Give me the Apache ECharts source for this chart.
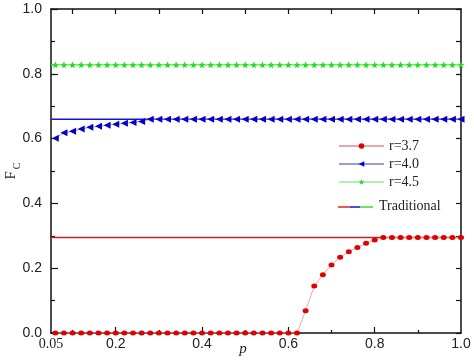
<!DOCTYPE html>
<html>
<head>
<meta charset="utf-8">
<script src="https://cdn.jsdelivr.net/npm/echarts@6/dist/echarts.min.js"></script>
<style>
  html, body { margin: 0; padding: 0; background: #fff; }
  #chart { width: 474px; height: 363px; }
</style>
</head>
<body>
<div id="chart"></div>
<script>
// sampled p values
const pValues = [0.06, 0.08, 0.10, 0.12, 0.14, 0.16, 0.18, 0.20, 0.22, 0.24,
                 0.26, 0.28, 0.30, 0.32, 0.34, 0.36, 0.38, 0.40, 0.42, 0.44,
                 0.46, 0.48, 0.50, 0.52, 0.54, 0.56, 0.58, 0.60, 0.62, 0.64,
                 0.66, 0.68, 0.70, 0.72, 0.74, 0.76, 0.78, 0.80, 0.82, 0.84,
                 0.86, 0.88, 0.90, 0.92, 0.94, 0.96, 0.98, 1.00];

const fcR37 = [0, 0, 0, 0, 0, 0, 0, 0, 0, 0,
               0, 0, 0, 0, 0, 0, 0, 0, 0, 0,
               0, 0, 0, 0, 0, 0, 0, 0, 0, 0.069,
               0.145, 0.180, 0.210, 0.234, 0.251, 0.264, 0.277, 0.287, 0.295, 0.295,
               0.295, 0.295, 0.295, 0.295, 0.295, 0.295, 0.295, 0.295];

const fcR40 = [0.601, 0.618, 0.623, 0.630, 0.635, 0.638, 0.641, 0.644, 0.647, 0.650,
               0.653, 0.660, 0.660, 0.660, 0.660, 0.660, 0.660, 0.660, 0.660, 0.660,
               0.660, 0.660, 0.660, 0.660, 0.660, 0.660, 0.660, 0.660, 0.660, 0.660,
               0.660, 0.660, 0.660, 0.660, 0.660, 0.660, 0.660, 0.660, 0.660, 0.660,
               0.660, 0.660, 0.660, 0.660, 0.660, 0.660, 0.660, 0.660];

const fcR45 = [0.828, 0.828, 0.828, 0.828, 0.828, 0.828, 0.828, 0.828, 0.828, 0.828,
               0.828, 0.828, 0.828, 0.828, 0.828, 0.828, 0.828, 0.828, 0.828, 0.828,
               0.828, 0.828, 0.828, 0.828, 0.828, 0.828, 0.828, 0.828, 0.828, 0.828,
               0.828, 0.828, 0.828, 0.828, 0.828, 0.828, 0.828, 0.828, 0.828, 0.828,
               0.828, 0.828, 0.828, 0.828, 0.828, 0.828, 0.828, 0.828];

// traditional (horizontal) values for r=3.7, 4.0, 4.5
const tradP = [0.05, 1.0];
const tradR37 = [0.295, 0.295];
const tradR40 = [0.660, 0.660];
const tradR45 = [0.828, 0.828];

const xLabelValues = [0.05, 0.2, 0.4, 0.6, 0.8, 1.0];
const xMajorTicks = [0.2, 0.4, 0.6, 0.8];
const xMinorTicks = [0.1, 0.3, 0.5, 0.7, 0.9];
const xTopTicks = [0.1, 0.2, 0.3, 0.4, 0.5, 0.6, 0.7, 0.8, 0.9];

const starPath = 'path://M0,-10 L2.35,-3.24 L9.51,-3.09 L3.8,1.24 L5.88,8.09 L0,4 L-5.88,8.09 L-3.8,1.24 L-9.51,-3.09 L-2.35,-3.24 Z';

const pairs = (xs, ys) => xs.map((x, i) => [x, ys[i]]);

const chart = echarts.init(document.getElementById('chart'));

const axisLine = { show: true, lineStyle: { color: '#111', width: 1.5 } };

chart.setOption({
  animation: false,
  backgroundColor: '#fff',
  grid: { left: 51, right: 13, top: 9, bottom: 30, containLabel: false, outerBoundsMode: 'none' },
  xAxis: [{
    type: 'value', min: 0.05, max: 1.0, position: 'bottom',
    axisLine: axisLine,
    splitLine: { show: false },
    axisTick: { show: true, inside: true, length: 6, customValues: xMajorTicks, lineStyle: { color: '#111', width: 1.2 } },
    axisLabel: {
      customValues: xLabelValues, margin: 4, color: '#222', fontSize: 14,
      fontFamily: 'Liberation Sans',
      formatter: v => v === 0.05 ? '{s|0.05}' : v.toFixed(1),
      rich: { s: { fontFamily: 'Liberation Serif', fontSize: 14, color: '#222' } }
    },
    name: 'p', nameLocation: 'middle', nameGap: 9, nameMoveOverlap: false,
    nameTextStyle: { fontFamily: 'Liberation Serif', fontStyle: 'italic', fontSize: 15, color: '#222', padding: [0, 26, 0, 0] }
  }, {
    type: 'value', min: 0.05, max: 1.0, position: 'bottom',
    axisLine: { show: false }, splitLine: { show: false },
    axisTick: { show: true, inside: true, length: 3, customValues: xMinorTicks, lineStyle: { color: '#111', width: 1.2 } },
    axisLabel: { show: false }
  }, {
    type: 'value', min: 0.05, max: 1.0, position: 'top',
    axisLine: axisLine, splitLine: { show: false },
    axisTick: { show: true, inside: true, length: 5, customValues: xTopTicks, lineStyle: { color: '#111', width: 1.2 } },
    axisLabel: { show: false }
  }],
  yAxis: [{
    type: 'value', min: 0, max: 1.0, interval: 0.2, position: 'left',
    axisLine: axisLine, splitLine: { show: false },
    axisTick: { show: true, inside: true, length: 7, lineStyle: { color: '#111', width: 1.2 } },
    minorTick: { show: true, splitNumber: 2, length: 4, lineStyle: { color: '#111', width: 1.2 } },
    axisLabel: { margin: 9, color: '#222', fontSize: 14, fontFamily: 'Liberation Sans', formatter: v => v.toFixed(1) },
    name: '{f|F}{c|C}', nameLocation: 'middle', nameRotate: 90, nameGap: 29, nameMoveOverlap: false,
    nameTextStyle: {
      rich: {
        f: { fontFamily: 'Liberation Serif', fontSize: 15, color: '#222', lineHeight: 18, verticalAlign: 'top' },
        c: { fontFamily: 'Liberation Serif', fontSize: 10, color: '#222', lineHeight: 18, verticalAlign: 'bottom', padding: [6, 0, 0, 2] }
      }
    }
  }, {
    type: 'value', min: 0, max: 1.0, interval: 0.1, position: 'right',
    axisLine: axisLine, splitLine: { show: false },
    axisTick: { show: true, inside: true, length: 5, lineStyle: { color: '#111', width: 1.2 } },
    axisLabel: { show: false }
  }],
  legend: {
    data: ['r=3.7', 'r=4.0', 'r=4.5'],
    orient: 'vertical', left: 338, top: 139, padding: 0,
    itemWidth: 45, itemHeight: 7, itemGap: 4,
    textStyle: { fontFamily: 'Liberation Serif', fontSize: 14, color: '#222' }
  },
  graphic: [
    { type: 'line', shape: { x1: 338, y1: 207, x2: 350, y2: 207 }, style: { stroke: '#dd2222', lineWidth: 1.5 } },
    { type: 'line', shape: { x1: 350, y1: 207, x2: 360, y2: 207 }, style: { stroke: '#1515cc', lineWidth: 1.5 } },
    { type: 'line', shape: { x1: 360, y1: 207, x2: 373, y2: 207 }, style: { stroke: '#33dd33', lineWidth: 1.5 } },
    { type: 'text', left: 379, top: 199, style: { text: 'Traditional', font: '14px "Liberation Serif"', fill: '#222' } }
  ],
  series: [{
    name: 'trad3.7', type: 'line', data: pairs(tradP, tradR37), showSymbol: false,
    lineStyle: { color: '#cc2222', width: 1.5 }, silent: true
  }, {
    name: 'trad4.0', type: 'line', data: pairs(tradP, tradR40), showSymbol: false,
    lineStyle: { color: '#1515cc', width: 1.5 }, silent: true
  }, {
    name: 'trad4.5', type: 'line', data: pairs(tradP, tradR45), showSymbol: false,
    lineStyle: { color: '#33dd33', width: 1.5 }, silent: true
  }, {
    name: 'r=3.7', type: 'line', data: pairs(pValues, fcR37),
    symbol: 'circle', symbolSize: [6, 5], showAllSymbol: true,
    itemStyle: { color: '#e00000' },
    lineStyle: { color: '#e8a8a8', width: 1 }
  }, {
    name: 'r=4.0', type: 'line', data: pairs(pValues, fcR40),
    symbol: 'triangle', symbolSize: 7, symbolRotate: 90, showAllSymbol: true,
    itemStyle: { color: '#0000cc' },
    lineStyle: { color: '#9a9ae0', width: 1 }
  }, {
    name: 'r=4.5', type: 'line', data: pairs(pValues, fcR45),
    symbol: starPath, symbolSize: 7, showAllSymbol: true,
    itemStyle: { color: '#22dd22' },
    lineStyle: { color: '#b0f0b0', width: 1 }
  }]
});
</script>
</body>
</html>
